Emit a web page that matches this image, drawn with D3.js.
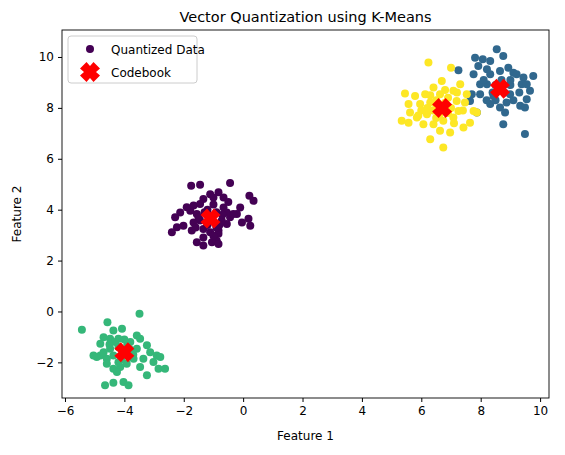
<!DOCTYPE html><html><head><meta charset="utf-8">
<script src="https://cdn.jsdelivr.net/npm/d3@7"></script>
<style>body{margin:0;background:#fff}text{font-family:"DejaVu Sans",sans-serif}</style></head><body>
<svg id="c" width="565" height="455"></svg>
<script>
const purple=[[-1.75,4.94],[-1.45,4.98],[-0.44,5.05],[0.21,4.55],[0.35,4.35],[-1.11,4.61],[-0.83,4.68],[-1.34,4.42],[-1.0,4.48],[-0.66,4.48],[-1.67,4.16],[-1.45,4.22],[-1.78,3.96],[-1.56,3.83],[-2.12,3.89],[-2.29,3.70],[-2.01,3.37],[-2.23,3.31],[-2.40,3.11],[-1.73,3.18],[-1.34,3.24],[-1.11,3.11],[-0.83,3.18],[-0.55,3.44],[-0.44,3.70],[-0.10,4.09],[-0.21,3.83],[-0.04,3.50],[0.24,3.37],[0.18,3.64],[-1.56,2.72],[-1.34,2.59],[-1.05,2.72],[-0.89,2.78],[-0.83,3.05],[-1.45,3.57],[-1.67,3.50],[-1.22,3.83],[-0.66,4.09],[-0.55,3.89],[-0.33,3.83],[-1.34,2.91],[-0.83,2.65],[-1.0,2.98],[-0.72,3.57],[-1.3,3.9],[-0.9,3.9],[-1.2,3.4],[-0.8,3.4],[-1.0,4.2],[-1.5,3.7],[-0.7,3.8],[-1.2,4.0],[-0.9,3.3],[-1.6,3.3],[-0.5,4.3],[-1.9,4.1]];
const green=[[-5.43,-0.72],[-4.57,-0.42],[-3.49,-0.09],[-4.70,-1.01],[-4.37,-0.75],[-4.08,-0.68],[-3.58,-0.94],[-4.81,-1.27],[-4.48,-1.07],[-4.20,-1.07],[-3.80,-1.20],[-3.47,-1.07],[-3.24,-1.33],[-4.48,-1.46],[-4.81,-1.73],[-4.93,-1.79],[-4.59,-1.86],[-4.37,-1.73],[-3.58,-1.46],[-3.36,-1.86],[-3.13,-1.60],[-2.91,-1.73],[-2.79,-1.79],[-3.02,-1.99],[-2.85,-2.25],[-2.63,-2.25],[-3.47,-2.18],[-3.24,-2.51],[-4.37,-2.25],[-4.14,-2.18],[-3.92,-2.05],[-4.59,-2.05],[-4.65,-2.90],[-4.37,-2.80],[-4.03,-2.77],[-3.86,-2.90],[-4.25,-2.38],[-3.69,-1.86],[-5.04,-1.73],[-4.70,-1.60],[-4.2,-1.4],[-3.8,-1.5],[-4.1,-1.9],[-3.9,-1.3],[-4.3,-1.2],[-3.7,-1.7],[-4.5,-1.3],[-4.0,-1.1],[-4.2,-2.0]];
const yellow=[[6.24,9.78],[7.00,9.58],[7.31,8.93],[6.69,9.06],[6.41,8.80],[6.13,8.54],[5.45,8.56],[5.79,8.47],[5.57,8.15],[5.96,8.15],[6.30,8.21],[6.63,8.54],[7.08,8.67],[7.53,8.54],[7.47,8.21],[7.76,7.88],[7.87,7.82],[7.25,7.88],[7.08,7.62],[5.34,7.49],[5.57,7.42],[5.85,7.62],[6.19,7.75],[6.07,7.36],[6.41,7.36],[6.74,7.49],[6.63,7.10],[6.97,7.03],[6.30,6.77],[6.74,6.44],[7.42,7.23],[7.64,7.42],[5.62,7.82],[6.51,8.01],[7.19,8.27],[6.8,8.2],[6.9,7.8],[6.2,8.0],[6.5,8.3],[6.9,8.4],[6.4,7.9],[7.0,8.0],[6.6,7.7],[6.0,7.9],[7.2,8.6],[6.8,8.7],[6.3,8.5],[7.4,7.9],[5.9,7.7],[6.5,7.6],[7.1,7.4]];
const blue=[[7.25,9.48],[7.81,9.97],[8.54,10.30],[8.07,9.91],[8.32,9.84],[8.76,10.04],[7.92,9.65],[8.21,9.52],[7.76,9.32],[8.32,9.32],[8.65,9.45],[8.93,9.58],[9.10,9.38],[9.44,9.19],[9.77,9.25],[9.38,8.93],[9.55,8.93],[9.66,8.67],[9.55,8.34],[9.33,8.08],[9.49,8.01],[8.87,8.21],[8.65,8.01],[8.82,7.82],[8.32,8.15],[7.98,8.54],[7.70,8.54],[7.64,8.27],[7.87,7.82],[8.21,8.93],[7.98,8.93],[8.76,7.36],[9.49,6.97],[9.21,9.32],[8.99,8.54],[8.43,8.47],[8.5,8.9],[8.8,8.6],[8.4,8.6],[9.0,8.9],[8.7,9.1],[8.2,8.3],[9.1,8.3],[8.5,8.3],[9.0,9.1],[8.1,9.1],[9.3,8.6]];
const codebook=[[-1.1,3.65],[-4.0,-1.6],[6.7,8.0],[8.65,8.75]];
const xTicks=[-6,-4,-2,0,2,4,6,8,10], yTicks=[-2,0,2,4,6,8,10];
const svg=d3.select("#c");
const L=62,R=549,T=30,B=398;
const x=d3.scaleLinear().domain([-6.1,10.3]).range([L,R]);
const y=d3.scaleLinear().domain([-3.4,11.06]).range([B,T]);
const groups=[[purple,"#440154"],[blue,"#31688e"],[green,"#35b779"],[yellow,"#fde725"]];
const pts=[];groups.forEach(([d,c])=>d.forEach(p=>pts.push([p,c])));
svg.append("g").selectAll("circle").data(pts).join("circle").attr("cx",d=>x(d[0][0])).attr("cy",d=>y(d[0][1])).attr("r",4).attr("fill",d=>d[1]);
const cross=s=>`M${-0.35*s},${-s}L0,${-0.6*s}L${0.35*s},${-s}L${s},${-0.35*s}L${0.6*s},0L${s},${0.35*s}L${0.35*s},${s}L0,${0.6*s}L${-0.35*s},${s}L${-s},${0.35*s}L${-0.6*s},0L${-s},${-0.35*s}Z`;
svg.append("g").selectAll("path").data(codebook).join("path").attr("d",cross(10)).attr("transform",d=>`translate(${x(d[0])},${y(d[1])})`).attr("fill","red");
const ax=svg.append("g").attr("transform",`translate(0,${B})`).call(d3.axisBottom(x).tickValues(xTicks).tickSize(4).tickPadding(4).tickFormat(d=>d<0?"−"+(-d):d));
const ay=svg.append("g").attr("transform",`translate(${L},0)`).call(d3.axisLeft(y).tickValues(yTicks).tickSize(4).tickPadding(4).tickFormat(d=>d<0?"−"+(-d):d));
[ax,ay].forEach(a=>{a.select(".domain").remove();a.selectAll("text").attr("font-size",12).attr("fill","#000").style("font-family","DejaVu Sans");a.selectAll("line").attr("stroke","#000");});
svg.append("rect").attr("x",L).attr("y",T).attr("width",R-L).attr("height",B-T).attr("fill","none").attr("stroke","#000").attr("stroke-width",0.9);
svg.append("text").attr("x",(L+R)/2).attr("y",T-8).attr("text-anchor","middle").attr("font-size",14.5).text("Vector Quantization using K-Means");
svg.append("text").attr("x",(L+R)/2).attr("y",440).attr("text-anchor","middle").attr("font-size",12).text("Feature 1");
svg.append("text").attr("transform",`translate(21,${(T+B)/2}) rotate(-90)`).attr("text-anchor","middle").attr("font-size",12).text("Feature 2");
const lg=svg.append("g");
lg.append("rect").attr("x",68).attr("y",36).attr("width",129).attr("height",47).attr("rx",3).attr("fill","#fff").attr("fill-opacity",0.8).attr("stroke","#ccc");
lg.append("circle").attr("cx",90).attr("cy",49).attr("r",4).attr("fill","#440154");
lg.append("path").attr("d",cross(10)).attr("transform","translate(90,72)").attr("fill","red");
lg.append("text").attr("x",111).attr("y",53.5).attr("font-size",12).text("Quantized Data");
lg.append("text").attr("x",111).attr("y",76.5).attr("font-size",12).text("Codebook");
</script></body></html>
